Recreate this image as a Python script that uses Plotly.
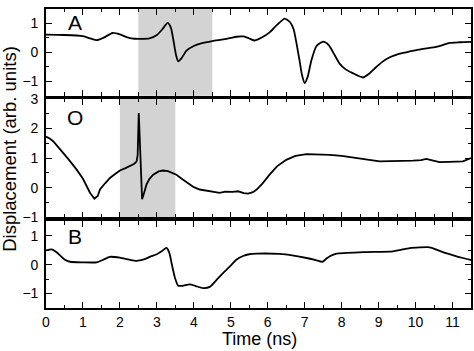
import plotly.graph_objects as go

# ---------------- data ----------------
a_t = [0.0, 0.5, 1.0, 1.2, 1.37, 1.55, 1.8, 2.0, 2.2, 2.4, 2.8, 3.0, 3.15, 3.29, 3.38, 3.45, 3.52, 3.58,
       3.68, 3.8, 4.0, 4.2, 4.5, 4.8, 5.0, 5.15, 5.35, 5.5, 5.65, 5.85, 6.05, 6.25, 6.46, 6.6, 6.7, 6.78,
       6.86, 6.93, 7.0, 7.08, 7.18, 7.32, 7.5, 7.65, 7.77, 7.95, 8.1, 8.3, 8.58, 8.75, 8.9, 9.1, 9.3, 9.55,
       9.84, 10.2, 10.56, 10.75, 10.92, 11.2, 11.5]
a_y = [0.61, 0.60, 0.56, 0.48, 0.42, 0.50, 0.67, 0.62, 0.52, 0.47, 0.48, 0.60, 0.80, 1.02, 0.85, 0.40, -0.10, -0.31,
       -0.18, 0.06, 0.22, 0.31, 0.39, 0.45, 0.50, 0.54, 0.55, 0.48, 0.41, 0.52, 0.69, 0.95, 1.17, 1.05, 0.80, 0.30,
       -0.28, -0.80, -1.06, -0.85, -0.28, 0.22, 0.37, 0.25, 0.00, -0.40, -0.58, -0.72, -0.87, -0.73, -0.55, -0.33, -0.17, -0.05,
       0.03, 0.12, 0.19, 0.26, 0.33, 0.35, 0.36]

o_t = [0.0, 0.1, 0.2, 0.4, 0.6, 0.83, 1.0, 1.19, 1.31, 1.4, 1.46, 1.6, 1.73, 1.87, 2.0, 2.15, 2.27, 2.38, 2.45,
       2.48, 2.51, 2.535, 2.56, 2.6, 2.66, 2.72, 2.8, 2.9, 3.05, 3.17, 3.3, 3.53, 3.7, 3.89, 4.0, 4.16, 4.4,
       4.7, 4.85, 5.05, 5.2, 5.35, 5.47, 5.6, 5.7, 5.85, 6.05, 6.25, 6.5, 6.75, 7.05, 7.3, 7.5, 7.68, 8.0,
       8.4, 8.7, 9.03, 9.4, 9.7, 9.93, 10.15, 10.29, 10.45, 10.65, 10.9, 11.28, 11.5]
o_y = [1.72, 1.66, 1.56, 1.28, 0.97, 0.61, 0.30, -0.17, -0.37, -0.28, -0.06, 0.15, 0.33, 0.46, 0.58, 0.66, 0.72, 0.80, 0.88,
       1.10, 2.52, 1.60, 0.50, -0.39, -0.15, 0.11, 0.30, 0.44, 0.55, 0.58, 0.56, 0.44, 0.28, 0.11, 0.02, -0.06, -0.11,
       -0.17, -0.13, -0.14, -0.12, -0.18, -0.20, -0.15, -0.06, 0.13, 0.44, 0.72, 0.94, 1.07, 1.13, 1.12, 1.13, 1.11, 1.07,
       0.99, 0.95, 0.89, 0.90, 0.89, 0.91, 0.93, 0.97, 0.92, 0.86, 0.87, 0.89, 1.00]

b_t = [0.0, 0.15, 0.25, 0.38, 0.5, 0.65, 1.0, 1.37, 1.55, 1.73, 2.0, 2.25, 2.45, 2.65, 2.81, 3.0, 3.13, 3.26,
       3.34, 3.4, 3.49, 3.58, 3.7, 3.89, 4.05, 4.25, 4.43, 4.6, 4.79, 4.97, 5.15, 5.33, 5.5, 5.7, 6.32, 6.7,
       7.05, 7.3, 7.48, 7.6, 7.68, 7.86, 8.58, 9.39, 9.6, 9.84, 10.38, 10.55, 10.74, 11.0, 11.28, 11.5]
b_y = [0.49, 0.53, 0.46, 0.32, 0.18, 0.10, 0.08, 0.08, 0.17, 0.27, 0.24, 0.17, 0.13, 0.18, 0.27, 0.36, 0.46, 0.58,
       0.40, 0.04, -0.46, -0.73, -0.73, -0.68, -0.74, -0.81, -0.77, -0.55, -0.29, -0.07, 0.17, 0.30, 0.36, 0.38, 0.37, 0.31,
       0.23, 0.16, 0.10, 0.22, 0.29, 0.38, 0.43, 0.46, 0.51, 0.57, 0.60, 0.53, 0.43, 0.33, 0.23, 0.16]

panel_labels = ["A", "O", "B"]
shade_a = (2.5, 4.5)
shade_o = (2.0, 3.5)
x_ticks = list(range(0, 12))

FONT = "Liberation Sans, Arial, sans-serif"

fig = go.Figure()
fig.add_trace(go.Scatter(x=a_t, y=a_y, mode="lines", line=dict(color="black", width=1.8, shape="spline", smoothing=0.6),
                         xaxis="x", yaxis="y", showlegend=False))
fig.add_trace(go.Scatter(x=o_t, y=o_y, mode="lines", line=dict(color="black", width=1.8),
                         xaxis="x2", yaxis="y2", showlegend=False))
fig.add_trace(go.Scatter(x=b_t, y=b_y, mode="lines", line=dict(color="black", width=1.8, shape="spline", smoothing=0.6),
                         xaxis="x3", yaxis="y3", showlegend=False))

common_x = dict(range=[0, 11.5], showline=True, linecolor="black", linewidth=1.6, mirror="ticks",
                ticks="inside", ticklen=6, tickwidth=1.3, tickcolor="black", tickmode="array", tickvals=x_ticks,
                minor=dict(dtick=0.5, ticks="inside", ticklen=3.5, tickwidth=1.3, tickcolor="black"),
                showgrid=False, zeroline=False, tickfont=dict(family=FONT, size=14, color="black"))
common_y = dict(showline=True, linecolor="black", linewidth=1.6, mirror="ticks",
                ticks="inside", ticklen=6, tickwidth=1.3, tickcolor="black", dtick=1,
                minor=dict(dtick=0.5, ticks="inside", ticklen=3.5, tickwidth=1.3, tickcolor="black"),
                showgrid=False, zeroline=False, tickfont=dict(family=FONT, size=14, color="black"),
                ticklabelstandoff=3)

dA = [0.710, 1.0]
dO = [0.303, 0.700]
dB = [0.0, 0.290]

fig.update_layout(
    width=474, height=351,
    margin=dict(l=46, r=2, t=1, b=43),
    plot_bgcolor="white", paper_bgcolor="white",
    font=dict(family=FONT, color="black"),
    xaxis=dict(**common_x, anchor="y", showticklabels=False),
    xaxis2=dict(**common_x, anchor="y2", matches="x", showticklabels=False),
    xaxis3=dict(**common_x, anchor="y3", matches="x", showticklabels=True),
    yaxis=dict(**common_y, domain=dA, range=[-1.5, 1.5], anchor="x", tickvals=[-1, 0, 1]),
    yaxis2=dict(**common_y, domain=dO, range=[-1, 3], anchor="x2", tickvals=[-1, 0, 1, 2, 3]),
    yaxis3=dict(**common_y, domain=dB, range=[-1.5, 1.5], anchor="x3", tickvals=[-1, 0, 1]),
)

fig.add_shape(type="rect", xref="x", yref="y domain", x0=shade_a[0], x1=shade_a[1], y0=0, y1=1,
              fillcolor="#d3d3d3", line=dict(width=0), layer="below")
fig.add_shape(type="rect", xref="x2", yref="y2 domain", x0=shade_o[0], x1=shade_o[1], y0=0, y1=1,
              fillcolor="#d3d3d3", line=dict(width=0), layer="below")

for lab, xr, yr, yy in zip(panel_labels, ["x domain", "x2 domain", "x3 domain"],
                           ["y domain", "y2 domain", "y3 domain"], [0.84, 0.845, 0.826]):
    fig.add_annotation(text=lab, x=0.068, y=yy, xref=xr, yref=yr, showarrow=False,
                       font=dict(family=FONT, size=21, color="black"), xanchor="center", yanchor="middle")

plot_w = 474 - 46 - 2
plot_h = 351 - 1 - 43
fig.add_annotation(text="Displacement (arb. units)", xref="paper", yref="paper",
                   x=(9.5 - 46) / plot_w, y=(351 - 43 - 145) / plot_h,
                   showarrow=False, textangle=-90, font=dict(family=FONT, size=18.5, color="black"),
                   xanchor="center", yanchor="middle")
fig.add_annotation(text="Time (ns)", xref="paper", yref="paper",
                   x=(260 - 46) / plot_w, y=(351 - 43 - 339.5) / plot_h, showarrow=False,
                   font=dict(family=FONT, size=18, color="black"), xanchor="center", yanchor="middle")

fig.write_html("out.html")
